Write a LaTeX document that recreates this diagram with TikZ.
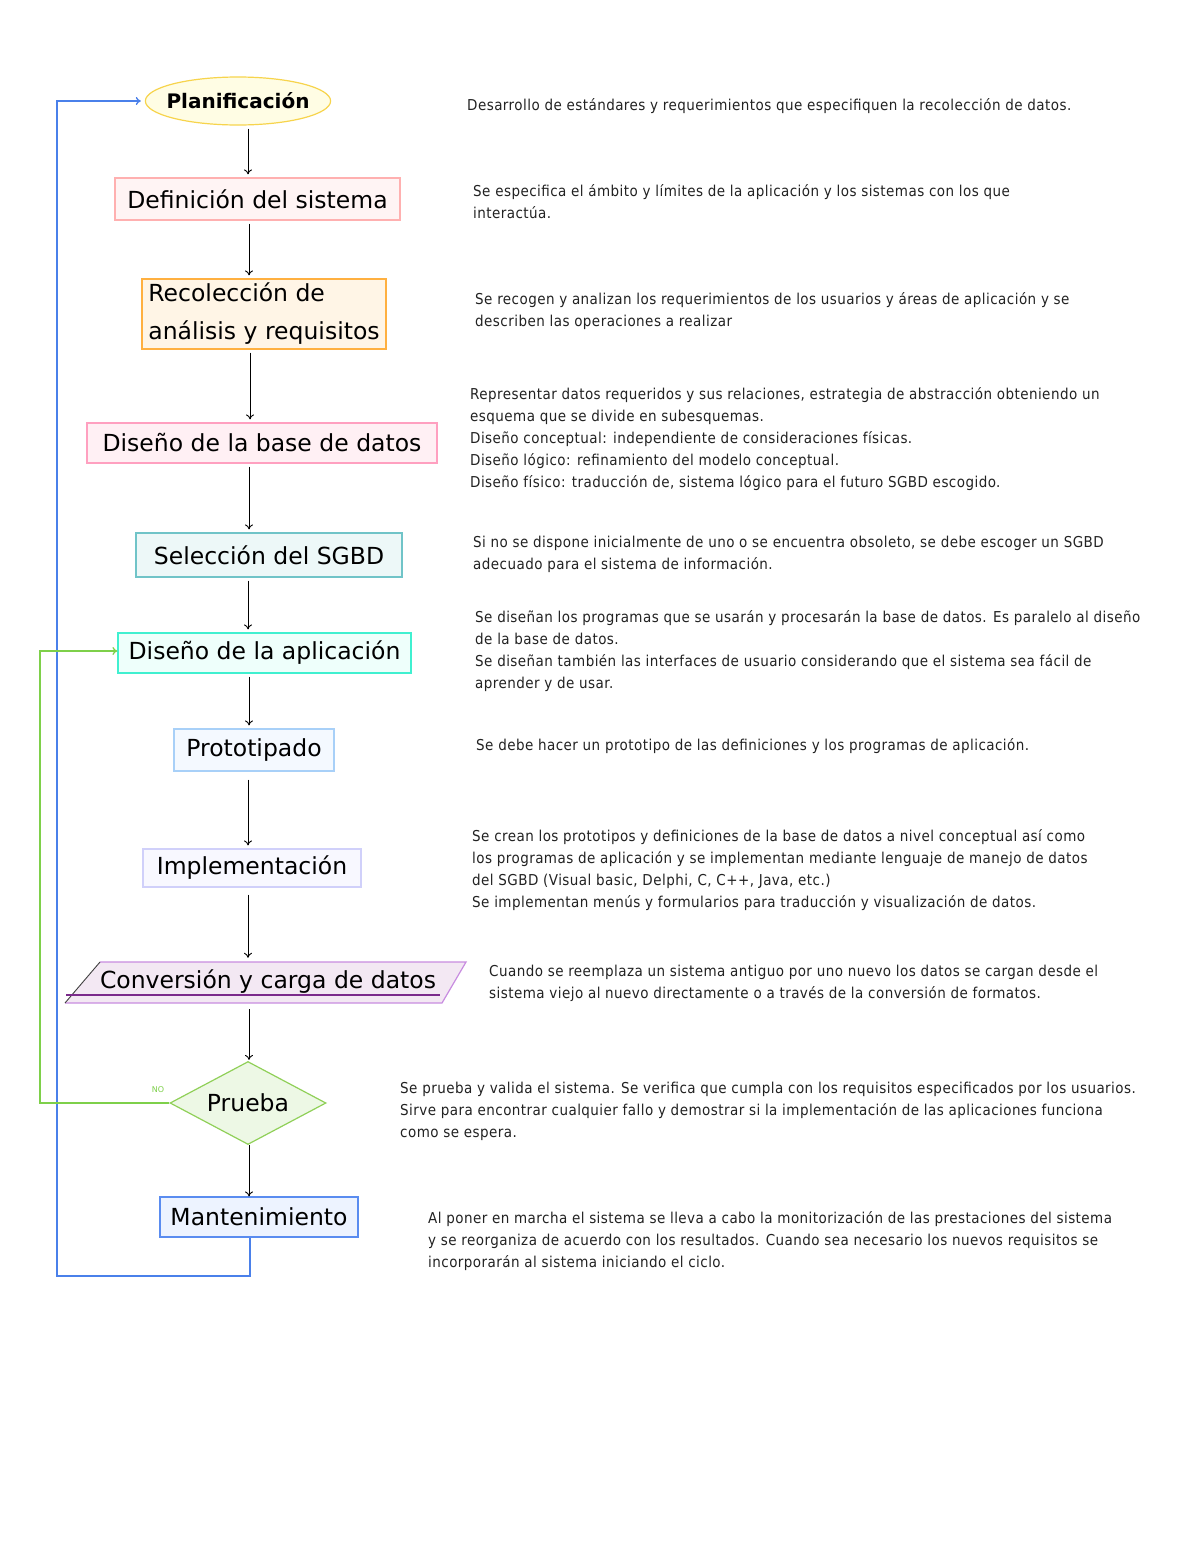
\documentclass[tikz,border=0pt]{standalone}
\usepackage{fontspec}
\setmainfont{DejaVu Sans}
\newfontfamily\descfont[LetterSpace=3]{DejaVu Sans Condensed}
\usetikzlibrary{arrows.meta,shapes.geometric}
\definecolor{planFill}{HTML}{FFFDE4}\definecolor{planDraw}{HTML}{F7D44C}
\definecolor{defFill}{HTML}{FFF4F4}\definecolor{defDraw}{HTML}{FFB0B0}
\definecolor{recFill}{HTML}{FFF5E6}\definecolor{recDraw}{HTML}{FFB040}
\definecolor{dbdFill}{HTML}{FFF0F4}\definecolor{dbdDraw}{HTML}{FFA0C0}
\definecolor{selFill}{HTML}{EDF8F8}\definecolor{selDraw}{HTML}{70C4C8}
\definecolor{appFill}{HTML}{EEFFFB}\definecolor{appDraw}{HTML}{40F0D0}
\definecolor{protoFill}{HTML}{F4F9FF}\definecolor{protoDraw}{HTML}{A8D0F8}
\definecolor{implFill}{HTML}{F8F8FF}\definecolor{implDraw}{HTML}{D0D0FA}
\definecolor{convFill}{HTML}{F3E8F3}\definecolor{convDraw}{HTML}{C88CE0}
\definecolor{convLine}{HTML}{7B2A8B}
\definecolor{pruFill}{HTML}{EDF8E5}\definecolor{pruDraw}{HTML}{90D058}
\definecolor{mantFill}{HTML}{EDF3FF}\definecolor{mantDraw}{HTML}{5A8CF0}
\definecolor{loopBlue}{HTML}{4A80EA}\definecolor{loopGreen}{HTML}{7ED04A}
\definecolor{descText}{HTML}{222222}
\tikzset{
  stepbox/.style={draw, line width=1.2pt, inner sep=0pt, font=\fontsize{23.5}{28}\selectfont},
  desc/.style={anchor=north west, inner sep=0pt, align=left, text=descText,
    font=\descfont\fontsize{15}{22}\selectfont},
  arr/.style={-{To[length=5pt,width=8pt]}, line width=0.9pt, black, shorten <=3pt, shorten >=3pt},
  loopline/.style={-{To[length=5pt,width=8pt]}, line width=1.3pt}
}
\begin{document}
\begin{tikzpicture}[x=1pt,y=-1pt]
\useasboundingbox[fill=white] (0,0) rectangle (1200,1553);
\coordinate (spine) at (248,0);

% step nodes
\node[stepbox, ellipse, fill=planFill, draw=planDraw, minimum width=184, minimum height=48,
      inner xsep=-6pt, inner ysep=3pt,
      font=\bfseries\fontsize{20}{24}\selectfont] (plan) at (238,101) {Planificación};
\node[stepbox, fill=defFill, draw=defDraw, minimum width=285, minimum height=42] (def) at (257.5,199) {Definición del sistema};
\node[stepbox, fill=recFill, draw=recDraw, minimum width=244, minimum height=70, align=left,
      font=\fontsize{23.5}{38}\selectfont] (rec) at (264,314) {Recolección de\\análisis y requisitos};
\node[stepbox, fill=dbdFill, draw=dbdDraw, minimum width=350, minimum height=40] (dbd) at (262,443) {Diseño de la base de datos};
\node[stepbox, fill=selFill, draw=selDraw, minimum width=266, minimum height=44] (sel) at (269,555) {Selección del SGBD};
\node[stepbox, fill=appFill, draw=appDraw, minimum width=293, minimum height=40] (app) at (264.5,653) {Diseño de la aplicación};
\node[stepbox, fill=protoFill, draw=protoDraw, minimum width=160, minimum height=42] (proto) at (254,750) {Prototipado};
\node[stepbox, fill=implFill, draw=implDraw, minimum width=218, minimum height=38] (impl) at (252,868) {Implementación};

% parallelogram
\fill[convFill] (100,962) -- (466,962) -- (442,1003) -- (65,1003) -- cycle;
\draw[convDraw, line width=1.2pt] (65,1003) -- (442,1003) -- (466,962) -- (100,962);
\draw[black!75, line width=0.9pt] (100,962) -- (65,1003);
\draw[convLine, line width=2.6pt] (66,995) -- (440,995);
\node[inner sep=0pt, minimum height=41, font=\fontsize{23.5}{28}\selectfont] (conv) at (268,981.5) {Conversión y carga de datos};

\node[stepbox, diamond, aspect=1.88, fill=pruFill, draw=pruDraw, minimum width=156, minimum height=83] (pru) at (248,1103) {Prueba};
\node[stepbox, fill=mantFill, draw=mantDraw, minimum width=198, minimum height=40] (mant) at (259,1217) {Mantenimiento};

% main arrows
\draw[arr] (plan.south -| spine) -- (def.north -| spine);
\draw[arr] ([xshift=1pt]def.south -| spine) -- ([xshift=1pt]rec.north -| spine);
\draw[arr] ([xshift=2pt]rec.south -| spine) -- ([xshift=2pt]dbd.north -| spine);
\draw[arr] ([xshift=1pt]dbd.south -| spine) -- ([xshift=1pt]sel.north -| spine);
\draw[arr] (sel.south -| spine) -- (app.north -| spine);
\draw[arr] ([xshift=1pt]app.south -| spine) -- ([xshift=1pt]proto.north -| spine);
\draw[arr, shorten <=8pt] (proto.south -| spine) -- (impl.north -| spine);
\draw[arr, shorten <=7pt] (impl.south -| spine) -- (conv.north -| spine);
\draw[arr, shorten <=7pt, shorten >=1pt] ([xshift=1pt]conv.south -| spine) -- ([xshift=1pt]pru.north -| spine);
\draw[arr, shorten <=0pt, shorten >=0pt] ([xshift=1pt]pru.south -| spine) -- ([xshift=1pt]mant.north -| spine);

% loops
\coordinate (loopB) at (57,1276);
\coordinate (loopG) at (40,1103);
\draw[loopline, draw=loopBlue] ([xshift=-9pt]mant.south) |- (loopB) |- ([xshift=-4pt]plan.west);
\draw[loopline, draw=loopGreen] (pru.west) -- (loopG) |- ([yshift=2pt]app.west);
\node[inner sep=0pt, text=loopGreen, font=\fontsize{8}{9}\selectfont] (nolbl) at (158,1090) {NO};

% descriptions
\node[desc] (d1) at (467,98.5) {Desarrollo de estándares y requerimientos que especifiquen la recolección de datos.};
\node[desc] (d2) at (473,184.5) {Se especifica el ámbito y límites de la aplicación y los sistemas con los que\\interactúa.};
\node[desc] (d3) at (475,292.5) {Se recogen y analizan los requerimientos de los usuarios y áreas de aplicación y se\\describen las operaciones a realizar};
\node[desc] (d4) at (470,387.5) {Representar datos requeridos y sus relaciones, estrategia de abstracción obteniendo un\\esquema que se divide en subesquemas.\\Diseño conceptual: independiente de consideraciones físicas.\\Diseño lógico: refinamiento del modelo conceptual.\\Diseño físico: traducción de, sistema lógico para el futuro SGBD escogido.};
\node[desc] (d5) at (473,535.5) {Si no se dispone inicialmente de uno o se encuentra obsoleto, se debe escoger un SGBD\\adecuado para el sistema de información.};
\node[desc] (d6) at (475,610.5) {Se diseñan los programas que se usarán y procesarán la base de datos. Es paralelo al diseño\\de la base de datos.\\Se diseñan también las interfaces de usuario considerando que el sistema sea fácil de\\aprender y de usar.};
\node[desc] (d7) at (476,738.5) {Se debe hacer un prototipo de las definiciones y los programas de aplicación.};
\node[desc] (d8) at (472,829.5) {Se crean los prototipos y definiciones de la base de datos a nivel conceptual así como\\los programas de aplicación y se implementan mediante lenguaje de manejo de datos\\del SGBD (Visual basic, Delphi, C, C++, Java, etc.)\\Se implementan menús y formularios para traducción y visualización de datos.};
\node[desc] (d9) at (489,964.5) {Cuando se reemplaza un sistema antiguo por uno nuevo los datos se cargan desde el\\sistema viejo al nuevo directamente o a través de la conversión de formatos.};
\node[desc] (d10) at (400,1081.5) {Se prueba y valida el sistema. Se verifica que cumpla con los requisitos especificados por los usuarios.\\Sirve para encontrar cualquier fallo y demostrar si la implementación de las aplicaciones funciona\\como se espera.};
\node[desc] (d11) at (428,1211.5) {Al poner en marcha el sistema se lleva a cabo la monitorización de las prestaciones del sistema\\y se reorganiza de acuerdo con los resultados. Cuando sea necesario los nuevos requisitos se\\incorporarán al sistema iniciando el ciclo.};
\end{tikzpicture}
\end{document}
